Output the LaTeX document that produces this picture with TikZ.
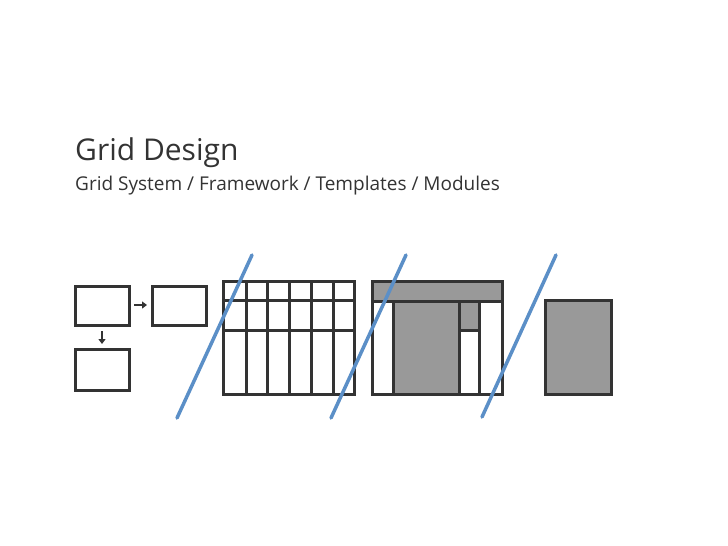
\documentclass[tikz,border=0pt]{standalone}
\usepackage{fontspec}
\setmainfont{Open Sans}
\usetikzlibrary{arrows.meta}
\begin{document}
\begin{tikzpicture}[x=1pt,y=-1pt,
  bx/.style={draw=dk,line width=3pt},
  gf/.style={fill=gr},
  bl/.style={draw=bluec,line width=3.5pt,line cap=round},
  ar/.style={-{Triangle[length=5pt,width=7pt]},line width=2.5pt,draw=dk}]
\definecolor{dk}{HTML}{333333}
\definecolor{gr}{HTML}{999999}
\definecolor{bluec}{HTML}{5B8FC7}
\useasboundingbox (0,0) rectangle (728,546);
\node[anchor=base west,inner sep=0,font=\fontsize{30}{30}\selectfont,text=dk] (t1) at (75,160) {Grid Design};
\node[anchor=base west,inner sep=0,font=\fontsize{19}{19}\selectfont,text=dk] (t2) at (75,190) {Grid System / Framework / Templates / Modules};
% flow boxes
\draw[bx] (75,286) rectangle (129,325);
\draw[bx] (152,286) rectangle (206,325);
\draw[bx] (75,349) rectangle (129,390);
\coordinate (a1s) at (134,305); \coordinate (a1e) at (147,305);
\coordinate (a2s) at (102,331); \coordinate (a2e) at (102,344);
\draw[ar] (a1s) -- (a1e);
\draw[ar] (a2s) -- (a2e);
% grid
\draw[bx] (223,281) rectangle (354,394);
\foreach \x in {246,267,289,311,333} \draw[bx] (\x,281) -- (\x,394);
\draw[bx] (223,300) -- (354,300);
\draw[bx] (223,330) -- (354,330);
% template
\fill[gr] (372,281) rectangle (502,301);
\fill[gr] (393,301) rectangle (459,394);
\fill[gr] (459,301) rectangle (479,330);
\draw[bx] (372,281) rectangle (502,394);
\draw[bx] (372,301) -- (502,301);
\draw[bx] (393,301) -- (393,394);
\draw[bx] (459,301) -- (459,394);
\draw[bx] (479,301) -- (479,394);
\draw[bx] (459,330) -- (479,330);
% module
\draw[bx,fill=gr] (545,300) rectangle (611,394);
% slashes
\coordinate (s1a) at (252,255); \coordinate (s1b) at (177,418);
\coordinate (s2a) at (406,255); \coordinate (s2b) at (331,418);
\coordinate (s3a) at (556,255); \coordinate (s3b) at (482,417);
\foreach \a/\b in {s1a/s1b,s2a/s2b,s3a/s3b}{
  \draw[bl] (\a) -- (\b);}
\end{tikzpicture}
\end{document}
